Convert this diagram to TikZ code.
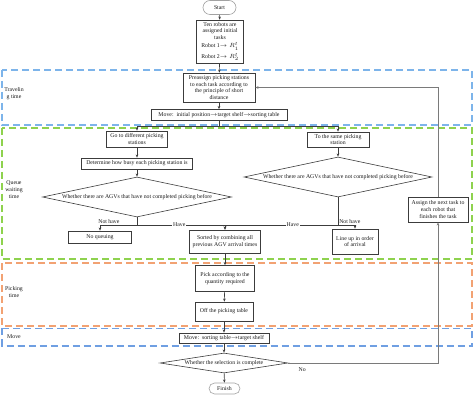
\documentclass[tikz,border=0pt]{standalone}
\usepackage{fontspec}
\setmainfont{Liberation Serif}
\usepackage{tikz}
\usetikzlibrary{arrows.meta,positioning,shapes.geometric,shapes.misc}
\definecolor{cInk}{HTML}{1A1A1A}
\definecolor{cLine}{HTML}{3C3C3C}
\definecolor{cFeed}{HTML}{7A7A7A}
\definecolor{cTrav}{HTML}{7DB4EA}
\definecolor{cQueue}{HTML}{8ED24E}
\definecolor{cPick}{HTML}{F2A273}
\definecolor{cMove}{HTML}{6F9FE2}
\newcommand{\tfont}{\fontsize{5.8}{6.9}\selectfont}
\newcommand{\rt}[1]{R^{\scriptscriptstyle t}_{\scriptscriptstyle #1}}
\tikzset{
  pbox/.style={draw=cLine,fill=white,line width=0.6pt,align=center,font=\tfont,inner sep=1pt,text=cInk},
  sz/.style 2 args={minimum width=#1pt,minimum height=#2pt},
  term/.style={draw=cFeed!70,fill=white,rounded rectangle,line width=0.6pt,font=\tfont,inner sep=1pt,text=cInk},
  dec/.style={draw=cLine,fill=white,diamond,line width=0.6pt,inner sep=0pt},
  dtxt/.style={font=\tfont,text=cInk,inner sep=0pt},
  zone/.style={draw=#1,dash pattern=on 7pt off 4pt,line width=1.3pt},
  zlab/.style={font=\tfont,align=center,text=cInk},
  arr/.style={-{Stealth[length=3.2pt,width=2.6pt]},line width=0.6pt,color=cLine},
  ln/.style={line width=0.6pt,color=cLine},
  elbl/.style={font=\tfont,text=cInk,inner sep=1pt},
}
\begin{document}
\begin{tikzpicture}[x=1pt,y=-1pt]
  \useasboundingbox (0,0) rectangle (474,395);
  % time zones
  \draw[zone=cTrav] (2,70) rectangle (472,125);
  \draw[zone=cQueue] (2,128) rectangle (472,259);
  \draw[zone=cPick] (2,263) rectangle (472,326);
  \draw[zone=cMove] (2,328.5) rectangle (472,346);
  \node[zlab] (zTrav) at (14,94) {Travelin\\g time};
  \node[zlab] (zQueue) at (14,190) {Queue\\waiting\\time};
  \node[zlab] (zPick) at (14,292) {Picking\\time};
  \node[zlab] (zMove) at (14,337) {Move};

  % main flow
  \node[term,sz={35}{14}] (start) at (219.5,7.5) {Start};
  \node[pbox,sz={47}{43}] (robots) at (220,41.5) {Ten robots are\\assigned initial\\tasks\\[1pt]Robot 1$\rightarrow\rt{1}$\\[2pt]Robot 2$\rightarrow\rt{2}$};
  \node[pbox,sz={72}{29}] (preassign) at (219,87.5) {Preassign picking stations\\to each task according to\\the principle of short\\distance};
  \node[pbox,sz={136}{11}] (move1) at (219,115) {Move:\ \ initial position$\rightarrow$target shelf$\rightarrow$sorting table};
  \node[pbox,sz={61}{16}] (godiff) at (137,139) {Go to different picking\\stations};
  \node[pbox,sz={111}{11}] (busy) at (137,163.5) {Determine how busy each picking station is};
  \node[dec,sz={189}{40}] (dl) at (137,197) {};
  \node[dtxt] (dlt) at (dl) {Whether there are AGVs that have not completed picking before};
  \node[pbox,sz={62}{15}] (same) at (338,139.5) {To the same picking\\station};
  \node[dec,sz={188}{40}] (dr) at (338,177) {};
  \node[dtxt] (drt) at (dr) {Whether there are AGVs that have not completed picking before};
  \node[pbox,sz={63}{12}] (noq) at (100,237) {No queuing};
  \node[pbox,sz={71}{23}] (sorted) at (225,241.5) {Sorted by combining all\\previous AGV arrival times};
  \node[pbox,sz={46}{25}] (lineup) at (355,241.5) {Line up in order\\of arrival};
  \node[pbox,sz={60}{25}] (assign) at (438,209.5) {Assign the next task to\\each robot that\\finishes the task};
  \node[pbox,sz={59}{26}] (pick) at (225,278.5) {Pick according to the\\quantity required};
  \node[pbox,sz={58}{19}] (off) at (224,311.5) {Off the picking table};
  \node[pbox,sz={90}{10}] (move2) at (224,338) {Move:\ \ sorting table$\rightarrow$target shelf};
  \node[dec,sz={128}{20}] (dfin) at (224,363) {};
  \node[dtxt] (dfint) at (dfin) {Whether the selection is complete};
  \node[term,sz={33}{11}] (finish) at (224.5,388.5) {Finish};

  % connectors
  \draw[arr] (start) -- (robots);
  \draw[arr] (robots) -- (preassign);
  \draw[arr] (preassign) -- (move1);
  \coordinate (sp) at (219,126);
  \draw[ln] (move1) -- (sp);
  \draw[arr] (sp) -| (godiff);
  \draw[arr] (sp) -| (same);
  \draw[arr] (godiff) -- (busy);
  \draw[arr] (busy) -- (dl);
  \coordinate (jl) at (137,225);
  \draw[ln] (dl) -- (jl);
  \draw[arr] (jl) -| node[elbl,pos=0.38,above] {Not have} (noq);
  \draw[arr] (jl) -| node[elbl,fill=white,pos=0.24] {Have} (sorted);
  \draw[arr] (same) -- (dr);
  \coordinate (jr) at (338,225);
  \draw[ln] (dr) -- (jr);
  \draw[arr] (jr) -| node[elbl,pos=0,anchor=south west] {Not have} (lineup);
  \draw[arr] (jr) -| node[elbl,fill=white,pos=0.2] {Have} (sorted);
  \draw[arr] (sorted) -- (pick);
  \draw[arr] (pick) -- (off);
  \draw[arr] (off) -- (move2);
  \draw[arr] (move2) -- (dfin);
  \draw[arr] (dfin) -- (finish);
  \draw[arr,color=cFeed] (dfin.east) -| node[elbl,pos=0.03,anchor=north west,yshift=-3pt] {No} (assign);
  \draw[arr,color=cFeed] (assign) |- (preassign);
\end{tikzpicture}
\end{document}
